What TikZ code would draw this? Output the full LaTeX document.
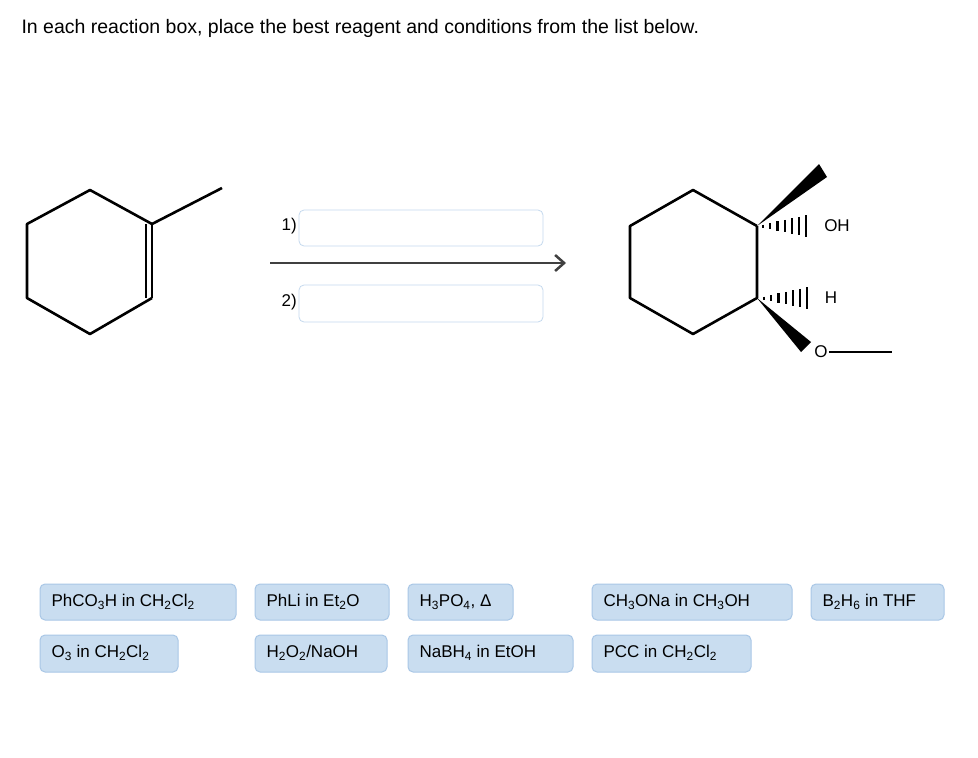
\documentclass[tikz,border=0pt]{standalone}
\usepackage{fontspec}
\setmainfont{Liberation Sans}
\usetikzlibrary{arrows.meta}
\tikzset{
 bond/.style={line width=2.6pt},
 chip/.style={draw=chipb,fill=chipf,rounded corners=5pt,line width=1pt},
 ans/.style={draw=boxb,fill=white,rounded corners=5pt,line width=0.8pt},
 ctext/.style={font=\fontsize{17}{20}\selectfont,anchor=west},
 atom/.style={font=\fontsize{17}{20}\selectfont,inner sep=1pt}
}
\definecolor{chipf}{HTML}{C9DDF0}
\definecolor{chipb}{HTML}{A9C7E6}
\definecolor{boxb}{HTML}{C5D9EE}
\begin{document}
\begin{tikzpicture}[x=1pt,y=-1pt]
\useasboundingbox[fill=white] (0,0) rectangle (978,758);
\node[anchor=west,font=\fontsize{19.5}{23}\selectfont] (title) at (18,28) {In each reaction box, place the best reagent and conditions from the list below.};
% reactant
\coordinate (a1) at (90,190);\coordinate (a2) at (152,224);\coordinate (a3) at (152,298);
\coordinate (a4) at (90,334);\coordinate (a5) at (27,298);\coordinate (a6) at (27,224);
\coordinate (am) at (222,188);
\draw[bond,line join=round] (a2)--(a1)--(a6)--(a5)--(a4)--(a3);
\draw[bond] (a2)--(a3);
\draw[bond] ([xshift=-6]a2)--([xshift=-6]a3);
\draw[bond] (a2)--(am);
% arrow
\coordinate (r0) at (270,263);\coordinate (r1) at (566,263);
\draw[line width=2.5pt,draw=black!75,-{Straight Barb[length=9pt,width=16pt]}] (r0)--(r1);
\node[atom,anchor=east] (l1) at (298,226) {1)};
\node[atom,anchor=east] (l2) at (298,302) {2)};
\draw[ans] (299,210) rectangle (543,246);
\draw[ans] (299,285) rectangle (543,322);
% product
\coordinate (b1) at (693,190);\coordinate (c1) at (757,226);\coordinate (c2) at (757,298);
\coordinate (b4) at (693,334);\coordinate (b5) at (630,298);\coordinate (b6) at (630,226);
\draw[bond,line join=round] (c1)--(b1)--(b6)--(b5)--(b4)--(c2)--(c1);
\fill (c1)--(819,164)--(827,177)--cycle;
\fill (c2)--(811,342)--(801,352)--cycle;
\node[atom] (oh) at (837,226) {OH};
\node[atom] (h) at (831,298) {H};
\node[atom] (o) at (821,352) {O};
\coordinate (me) at (892,352);
\draw[bond] (o.east)--(me);
\foreach \i in {0,...,6}{
 \pgfmathsetmacro\xx{763+\i*7.2}
 \pgfmathsetmacro\hh{1.5+\i*1.55}
 \draw[line width=2.2pt] (\xx,226-\hh)--(\xx,226+\hh);
 \draw[line width=2.2pt] (\xx+1,298-\hh)--(\xx+1,298+\hh);
}
% chips
\draw[chip] (40,584) rectangle (236,620); \node[ctext] (k1) at (48,602) {PhCO\textsubscript{3}H in CH\textsubscript{2}Cl\textsubscript{2}};
\draw[chip] (255,584) rectangle (389,620); \node[ctext] (k2) at (263,602) {PhLi in Et\textsubscript{2}O};
\draw[chip] (408,584) rectangle (513,620); \node[ctext] (k3) at (416,602) {H\textsubscript{3}PO\textsubscript{4}, Δ};
\draw[chip] (592,584) rectangle (792,620); \node[ctext] (k4) at (600,602) {CH\textsubscript{3}ONa in CH\textsubscript{3}OH};
\draw[chip] (811,584) rectangle (944,620); \node[ctext] (k5) at (819,602) {B\textsubscript{2}H\textsubscript{6} in THF};
\draw[chip] (40,635) rectangle (178,672); \node[ctext] (k6) at (48,653) {O\textsubscript{3} in CH\textsubscript{2}Cl\textsubscript{2}};
\draw[chip] (255,635) rectangle (387,672); \node[ctext] (k7) at (263,653) {H\textsubscript{2}O\textsubscript{2}/NaOH};
\draw[chip] (408,635) rectangle (573,672); \node[ctext] (k8) at (416,653) {NaBH\textsubscript{4} in EtOH};
\draw[chip] (592,635) rectangle (751,672); \node[ctext] (k9) at (600,653) {PCC in CH\textsubscript{2}Cl\textsubscript{2}};
\end{tikzpicture}
\end{document}
